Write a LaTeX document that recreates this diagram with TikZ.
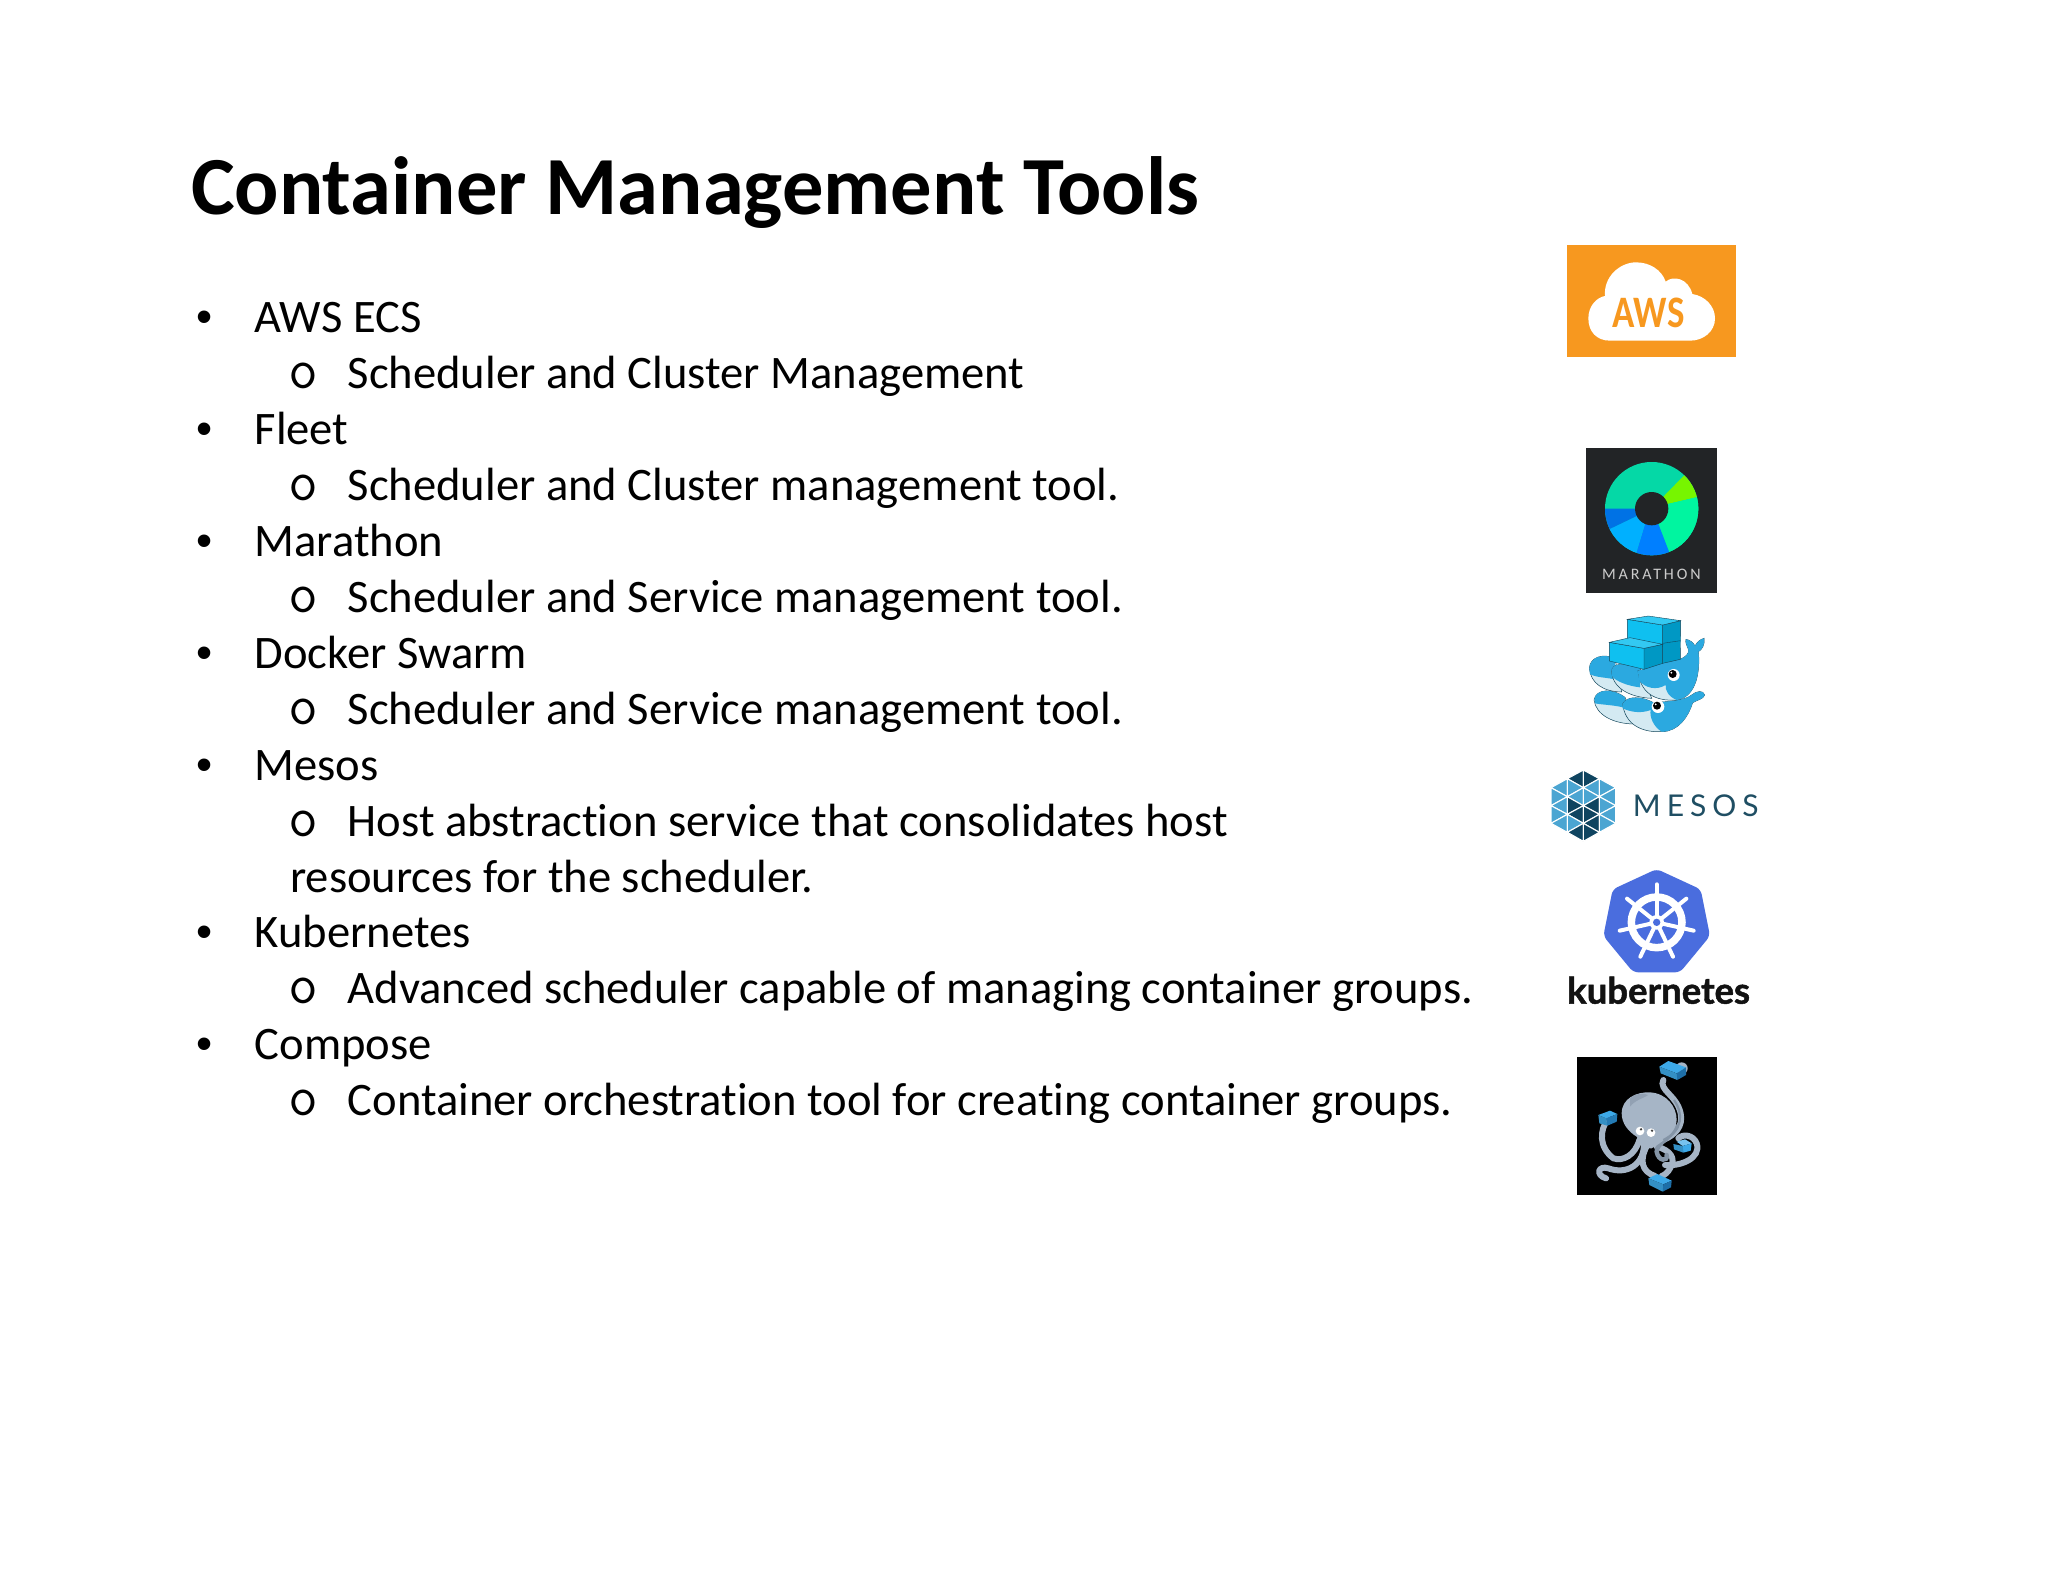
\documentclass[tikz,border=0pt]{standalone}
\usepackage{fontspec}
\setmainfont{Carlito}[RawFeature={-liga}]
\newfontfamily\bulfont{Liberation Sans}
\newfontfamily\marafont[LetterSpace=18]{Carlito}
\newfontfamily\mesfont[LetterSpace=20]{Lato}
\newfontfamily\kubefont{Lato}
\definecolor{awsor}{HTML}{F7981F}
\definecolor{mardark}{HTML}{222426}
\definecolor{mteal}{HTML}{05D8A6}
\definecolor{mlime}{HTML}{77F500}
\definecolor{mmint}{HTML}{00F5A0}
\definecolor{mblue}{HTML}{007FFF}
\definecolor{msky}{HTML}{00B0FF}
\definecolor{whblue}{HTML}{2BA9E0}
\definecolor{whbelly}{HTML}{D4EAF2}
\definecolor{whline}{HTML}{12455A}
\definecolor{cfront}{HTML}{0FC0F0}
\definecolor{cside}{HTML}{0098C4}
\definecolor{mesl}{HTML}{4BA5D2}
\definecolor{mesd}{HTML}{0F4460}
\definecolor{mestxt}{HTML}{1F4E63}
\definecolor{kube}{HTML}{4A6DDE}
\definecolor{octo}{HTML}{A6B5C6}
\definecolor{octod}{HTML}{8494A6}
\definecolor{boxa}{HTML}{3DA9E8}
\definecolor{boxb}{HTML}{1E6FA8}
\tikzset{
  titletxt/.style={anchor=base west,inner sep=0pt,font=\fontsize{82.6}{83}\selectfont\bfseries},
  lone/.style={anchor=base west,inner sep=0pt,font=\fontsize{46.6}{47}\selectfont},
  bul/.style={anchor=base,inner sep=0pt,font=\fontsize{46}{46}\bulfont},
  sub/.style={anchor=base,inner sep=0pt,font=\fontsize{58}{58}\ttfamily},
  crop/.style={x=0.33333pt,y=-0.33333pt},
  whale/.style={draw=whline,line width=0.5pt,fill=whbelly},
  tent/.style={draw=octo,line width=6pt,line cap=round},
  mtri/.style={draw=white,line width=1.1pt,line join=round}
}
\begin{document}
\begin{tikzpicture}[x=1pt,y=-1pt]
\useasboundingbox (0,0) rectangle (2048,1582);
\fill[white] (0,0) rectangle (2048,1582);
\node[titletxt] (title) at (191,214) {Container Management Tools};

\node[bul] (b1) at (205,332) {•}; \node[lone] (t1) at (254.5,332) {AWS ECS};
\node[sub] (c1) at (303,388) {o}; \node[lone] (s1) at (347.5,388) {Scheduler and Cluster Management};
\node[bul] (b2) at (205,444) {•}; \node[lone] (t2) at (254.5,444) {Fleet};
\node[sub] (c2) at (303,500) {o}; \node[lone] (s2) at (347.5,500) {Scheduler and Cluster management tool.};
\node[bul] (b3) at (205,556) {•}; \node[lone] (t3) at (254.5,556) {Marathon};
\node[sub] (c3) at (303,612) {o}; \node[lone] (s3) at (347.5,612) {Scheduler and Service management tool.};
\node[bul] (b4) at (205,668) {•}; \node[lone] (t4) at (254.5,668) {Docker Swarm};
\node[sub] (c4) at (303,724) {o}; \node[lone] (s4) at (347.5,724) {Scheduler and Service management tool.};
\node[bul] (b5) at (205,780) {•}; \node[lone] (t5) at (254.5,780) {Mesos};
\node[sub] (c5) at (303,836) {o}; \node[lone] (s5) at (347.5,836) {Host abstraction service that consolidates host};
\node[lone] (s5b) at (290,892) {resources for the scheduler.};
\node[bul] (b6) at (205,947.5) {•}; \node[lone] (t6) at (254.5,947.5) {Kubernetes};
\node[sub] (c6) at (303,1003) {o}; \node[lone] (s6) at (347.5,1003) {Advanced scheduler capable of managing container groups.};
\node[bul] (b7) at (205,1059) {•}; \node[lone] (t7) at (254.5,1059) {Compose};
\node[sub] (c7) at (303,1115) {o}; \node[lone] (s7) at (347.5,1115) {Container orchestration tool for creating container groups.};

% AWS + Marathon
\begin{scope}[shift={(1520,220)},crop]
\fill[awsor] (142,76) rectangle (647,412);
\fill[white] (270,362) .. controls (230,362) and (205,335) .. (205,295) .. controls (205,258) and (230,232) .. (255,228) .. controls (250,170) and (300,127) .. (348,127) .. controls (390,127) and (425,150) .. (437,185) .. controls (460,165) and (505,175) .. (517,222) .. controls (555,228) and (585,258) .. (585,295) .. controls (585,335) and (550,362) .. (510,362) -- cycle;
\node[anchor=base,inner sep=0pt,text=awsor,font=\fontsize{45}{45}\selectfont\bfseries,xscale=.82,transform shape] (awstxt) at (386,322) {AWS};

\fill[mardark] (197,685) rectangle (591,1120);
\begin{scope}
\clip (395,866) circle [radius=140];
\fill[mteal] (240,700) rectangle (550,1020);
\fill[mlime] (395,866) -- (510,748) -- (580,820) -- (443,852) -- cycle;
\fill[mmint] (395,866) -- (443,852) -- (580,820) -- (580,1060) -- (470,1055) -- (415,912) -- cycle;
\fill[mblue] (395,866) -- (415,912) -- (470,1055) -- (330,1060) -- (375,912) -- cycle;
\fill[msky] (395,866) -- (375,912) -- (330,1060) -- (200,960) -- (350,888) -- cycle;
\fill[mblue!90!black] (395,866) -- (350,888) -- (200,960) -- (200,866) -- cycle;
\end{scope}
\fill[mardark] (395,866) circle [radius=50];
\node[anchor=base,inner sep=0pt,text=black!20,font=\fontsize{16}{16}\marafont] (martxt) at (394,1077) {MARATHON};
\end{scope}

% Docker Swarm + Mesos
\begin{scope}[shift={(1520,600)},crop]
% lower whale
\path[whale] (222,300) .. controls (228,265) and (280,265) .. (315,292) -- (345,372) .. controls (280,372) and (228,345) .. (222,300) -- cycle;
\fill[whblue] (223,298) .. controls (228,265) and (280,265) .. (315,292) -- (318,325) .. controls (290,315) and (250,315) .. (225,310) -- cycle;
\path[whale] (308,312) .. controls (320,285) and (370,290) .. (400,308) .. controls (440,305) and (495,302) .. (515,285) .. controls (530,272) and (550,270) .. (554,285) .. controls (550,298) and (530,300) .. (518,308) .. controls (505,350) and (475,395) .. (425,395) .. controls (360,398) and (315,370) .. (308,312) -- cycle;
\fill[whblue] (308,312) .. controls (320,285) and (370,290) .. (400,308) .. controls (440,305) and (495,302) .. (515,285) .. controls (530,272) and (550,270) .. (554,285) .. controls (550,298) and (530,300) .. (518,308) .. controls (505,350) and (475,395) .. (425,395) .. controls (400,380) and (388,350) .. (392,330) .. controls (360,342) and (330,335) .. (308,325) -- cycle;
\fill[white] (414,320) circle [radius=19];
\fill[black] (411,317) circle [radius=12];
\fill[white] (407,313) circle [radius=3];
% upper whales
\path[whale] (208,205) .. controls (210,170) and (250,160) .. (285,175) -- (305,276) .. controls (250,275) and (212,250) .. (208,205) -- cycle;
\fill[whblue] (208,205) .. controls (210,170) and (250,160) .. (285,175) -- (285,238) .. controls (255,232) and (225,232) .. (210,222) -- cycle;
\path[whale] (275,215) .. controls (275,190) and (310,185) .. (360,205) -- (395,295) .. controls (330,292) and (278,265) .. (275,215) -- cycle;
\fill[whblue] (275,215) .. controls (275,190) and (310,185) .. (360,205) -- (360,262) .. controls (325,258) and (290,245) .. (277,230) -- cycle;
\path[whale] (354,212) -- (372,208) -- (428,190) -- (480,178) .. controls (495,172) and (510,160) .. (505,148) .. controls (500,135) and (495,125) .. (498,118) .. controls (510,120) and (520,128) .. (525,138) .. controls (530,128) and (540,118) .. (552,115) .. controls (555,135) and (545,150) .. (535,155) .. controls (540,200) and (535,290) .. (470,300) .. controls (400,305) and (360,275) .. (354,212) -- cycle;
\fill[whblue] (354,212) -- (372,208) -- (428,190) -- (480,178) .. controls (495,172) and (510,160) .. (505,148) .. controls (500,135) and (495,125) .. (498,118) .. controls (510,120) and (520,128) .. (525,138) .. controls (530,128) and (540,118) .. (552,115) .. controls (555,135) and (545,150) .. (535,155) .. controls (540,200) and (535,290) .. (470,300) .. controls (445,290) and (435,270) .. (437,255) .. controls (410,272) and (375,265) .. (356,240) -- cycle;
\fill[white] (461,225) circle [radius=18];
\fill[black] (458,222) circle [radius=12];
\fill[white] (454,218) circle [radius=3];
% containers
\filldraw[draw=whline,line width=0.4pt,fill=cside] (428,75) -- (482,62) -- (481,178) -- (428,190) -- cycle;
\filldraw[draw=whline,line width=0.4pt,fill=cfront] (322,58) -- (428,75) -- (428,140) -- (322,120) -- cycle;
\filldraw[draw=whline,line width=0.4pt,fill=cfront!85!white] (322,58) -- (385,48) -- (482,62) -- (428,75) -- cycle;
\draw[whline,line width=0.4pt] (428,130) -- (481,122);
\filldraw[draw=whline,line width=0.4pt,fill=cside] (372,145) -- (428,133) -- (428,190) -- (372,208) -- cycle;
\filldraw[draw=whline,line width=0.4pt,fill=cfront] (268,127) -- (372,145) -- (372,208) -- (268,183) -- cycle;
\filldraw[draw=whline,line width=0.4pt,fill=cfront!85!white] (268,127) -- (330,113) -- (428,133) -- (372,145) -- cycle;

% Mesos hexagon
\foreach \ax/\ay/\bx/\by/\cx/\cy/\col in {
 93/563/142/536/142/590/mesl, 93/563/93/617/142/590/mesl, 93/617/142/590/142/643/mesl, 93/617/93/670/142/643/mesl, 93/670/142/643/142/697/mesl,
 142/536/190/510/190/563/mesd, 142/536/142/590/190/563/mesl, 142/590/190/563/190/617/mesl, 142/590/142/643/190/617/mesd, 142/643/190/617/190/670/mesd, 142/643/142/697/190/670/mesl, 142/697/190/670/190/724/mesd,
 238/536/190/510/190/563/mesd, 238/536/238/590/190/563/mesl, 238/590/190/563/190/617/mesl, 238/590/238/643/190/617/mesd, 238/643/190/617/190/670/mesd, 238/643/238/697/190/670/mesd, 238/697/190/670/190/724/mesd,
 287/563/238/536/238/590/mesl, 287/563/287/617/238/590/mesl, 287/617/238/590/238/643/mesl, 287/617/287/670/238/643/mesl, 287/670/238/643/238/697/mesl}
{ \filldraw[mtri,fill=\col] (\ax,\ay) -- (\bx,\by) -- (\cx,\cy) -- cycle; }
\node[anchor=base west,inner sep=0pt,text=mestxt,font=\fontsize{30}{30}\mesfont] (mestxt) at (338,650) {MESOS};
\end{scope}

% Kubernetes + Compose
\begin{scope}[shift={(1520,850)},crop]
\fill[kube,rounded corners=5pt] (410,57) -- (542,118) -- (570,258) -- (480,367) -- (340,367) -- (250,258) -- (278,118) -- cycle;
\draw[white,line width=7.5pt] (410,217) circle [radius=76];
\foreach \ex/\ey in {410/103, 499/146, 521/242, 459/320, 361/320, 299/242, 321/146}{
  \draw[white,line width=4pt,line cap=round] (410,217) -- (\ex,\ey);
}
\fill[white] (410,217) circle [radius=22];
\fill[kube] (410,217) circle [radius=11];
\node[anchor=base west,inner sep=0pt,text=black!93,font=\fontsize{36.5}{37}\kubefont\bfseries\addfontfeature{FakeBold=1.3}] (kubetxt) at (141,461) {kubernetes};

\fill[black] (171,621) rectangle (591,1035);
% tentacles
\draw[tent] (430,690) .. controls (415,720) and (470,735) .. (482,790) .. controls (490,830) and (465,855) .. (430,870);
\draw[tent] (262,810) .. controls (240,840) and (235,890) .. (280,925) .. controls (310,935) and (345,915) .. (358,870);
\draw[tent] (258,985) .. controls (225,975) and (235,945) .. (265,955) .. controls (320,975) and (375,945) .. (372,875);
\draw[tent] (385,880) .. controls (355,930) and (365,965) .. (405,978);
\draw[tent] (435,945) .. controls (480,950) and (545,925) .. (530,880) .. controls (520,855) and (490,850) .. (475,865);
\draw[tent] (410,890) .. controls (450,900) and (470,925) .. (450,955) .. controls (445,965) and (435,975) .. (425,978);
\draw[tent,octod,line width=4.5pt] (470,830) .. controls (445,870) and (410,880) .. (410,905) .. controls (415,935) and (445,935) .. (440,915);
% head
\fill[octo] (305,790) .. controls (305,745) and (350,725) .. (390,727) .. controls (440,730) and (470,770) .. (470,810) .. controls (470,850) and (420,880) .. (395,895) .. controls (380,900) and (360,880) .. (350,860) .. controls (325,845) and (305,820) .. (305,790) -- cycle;
\fill[octod!60!octo] (330,745) .. controls (345,730) and (370,728) .. (385,735) .. controls (370,745) and (345,750) .. (330,770) -- cycle;
\draw[octod,line width=2.2pt] (462,750) .. controls (490,790) and (490,840) .. (430,870);
\fill[white] (360,843) circle [radius=13];
\fill[white] (393,848) circle [radius=13];
\fill[black!75] (363,838) circle [radius=4];
\fill[black!75] (396,842) circle [radius=4];
% boxes
\fill[octo] (485,655) circle [radius=18];
\fill[boxa] (418,650) -- (445,633) -- (498,652) -- (470,670) -- cycle;
\fill[boxa!85!black] (418,650) -- (470,670) -- (472,690) -- (422,670) -- cycle;
\fill[boxb] (470,670) -- (498,652) -- (498,675) -- (472,690) -- cycle;
\fill[boxa] (235,795) -- (270,782) -- (292,792) -- (258,805) -- cycle;
\fill[boxa!85!black] (235,795) -- (258,805) -- (262,827) -- (238,820) -- cycle;
\fill[boxb!80!boxa] (258,805) -- (292,792) -- (290,815) -- (262,827) -- cycle;
\fill[boxa!70!white] (470,875) -- (495,868) -- (515,880) -- (488,888) -- cycle;
\fill[boxa] (488,888) -- (515,880) -- (512,902) -- (490,908) -- cycle;
\fill[boxa!85!black] (460,882) -- (488,888) -- (490,908) -- (462,898) -- cycle;
\fill[boxa] (385,985) -- (412,972) -- (455,992) -- (430,1003) -- cycle;
\fill[boxa!85!black] (385,985) -- (430,1003) -- (428,1025) -- (388,1005) -- cycle;
\fill[boxb] (430,1003) -- (455,992) -- (453,1012) -- (428,1025) -- cycle;
\end{scope}
\end{tikzpicture}
\end{document}
